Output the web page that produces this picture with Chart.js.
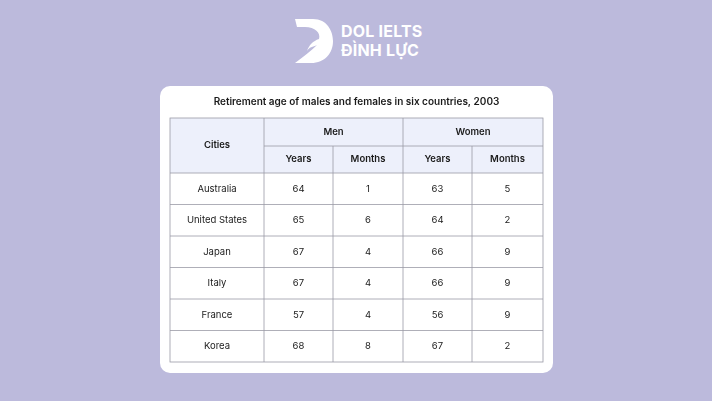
<!DOCTYPE html>
<html lang="en">
<head>
<meta charset="UTF-8" />
<script src="https://cdn.jsdelivr.net/npm/chart.js"></script>
<style>
  html, body { margin: 0; padding: 0; }
  body { width: 712px; height: 401px; background: #bcbadc; position: relative; overflow: hidden; font-family: Inter, "Noto Sans", sans-serif; }
  .card { position: absolute; left: 160px; top: 86px; width: 393px; height: 287px; background: #fff; border-radius: 10px; }
  .logo { position: absolute; left: 293px; top: 17px; display: flex; align-items: center; color: #fff; }
  .logo .txt { margin-left: 8px; font-weight: 700; font-size: 16px; line-height: 19px; letter-spacing: 0.2px; }
  canvas { position: absolute; left: 0; top: 0; }
</style>
</head>
<body>
<div class="logo">
  <svg width="40" height="48" viewBox="0 0 40 48">
    <path d="M2 2 L20 2 C34 2 40 14 40 24 C40 36 32 46 18 46 L2 46 C10 40 18 34 24 28 C20 30 16 30 14 34 C16 28 20 24 26 22 C28 16 22 10 12 10 L4 10 Z" fill="#fff"/>
  </svg>
  <div class="txt">DOL IELTS<br>ĐÌNH LỰC</div>
</div>
<div class="card"></div>
<canvas id="tableChart" width="712" height="401"></canvas>
<script>
  const title = 'Retirement age of males and females in six countries, 2003';
  const cities = ['Australia', 'United States', 'Japan', 'Italy', 'France', 'Korea'];
  const menYears = [64, 65, 67, 67, 57, 68];
  const menMonths = [1, 6, 4, 4, 4, 8];
  const womenYears = [63, 64, 66, 66, 56, 67];
  const womenMonths = [5, 2, 9, 9, 9, 2];

  const colEdges = [0, 94, 163, 233, 302, 373];
  const headerMid = 28, headerBottom = 55, rowH = 31.5;

  const tablePlugin = {
    id: 'tablePlugin',
    afterDraw(chart) {
      const { ctx, scales: { x, y } } = chart;
      const px = v => x.getPixelForValue(v);
      const py = v => y.getPixelForValue(v);
      const cols = [cities, menYears, menMonths, womenYears, womenMonths];
      ctx.save();
      ctx.fillStyle = '#1a1a1a';
      ctx.font = '600 10px Inter, sans-serif';
      ctx.textAlign = 'center';
      ctx.textBaseline = 'middle';
      ctx.fillText(title, (px(0) + px(373)) / 2, py(-16));

      ctx.fillStyle = '#edf0fb';
      ctx.fillRect(px(0), py(0), px(373) - px(0), py(headerBottom) - py(0));

      ctx.strokeStyle = '#9a9aa6';
      ctx.lineWidth = 0.8;
      const line = (x1, y1, x2, y2) => { ctx.beginPath(); ctx.moveTo(px(x1), py(y1)); ctx.lineTo(px(x2), py(y2)); ctx.stroke(); };
      const bottom = headerBottom + rowH * cities.length;
      ctx.strokeRect(px(0), py(0), px(373) - px(0), py(bottom) - py(0));
      line(colEdges[1], 0, colEdges[1], bottom);
      line(colEdges[3], 0, colEdges[3], bottom);
      line(colEdges[2], headerMid, colEdges[2], bottom);
      line(colEdges[4], headerMid, colEdges[4], bottom);
      line(colEdges[1], headerMid, 373, headerMid);
      for (let r = 0; r <= cities.length - 1; r++) line(0, headerBottom + r * rowH, 373, headerBottom + r * rowH);

      const mid = i => (px(colEdges[i]) + px(colEdges[i + 1])) / 2;
      ctx.fillStyle = '#1a1a1a';
      ctx.font = '600 9.5px Inter, sans-serif';
      ctx.fillText('Cities', mid(0), py(headerBottom / 2));
      ctx.fillText('Men', (px(colEdges[1]) + px(colEdges[3])) / 2, py(headerMid / 2));
      ctx.fillText('Women', (px(colEdges[3]) + px(colEdges[5])) / 2, py(headerMid / 2));
      ['Years', 'Months', 'Years', 'Months'].forEach((t, i) => ctx.fillText(t, mid(i + 1), py((headerMid + headerBottom) / 2)));

      ctx.font = '400 9.5px Inter, sans-serif';
      cities.forEach((_, r) => {
        const cy = py(headerBottom + (r + 0.5) * rowH);
        cols.forEach((col, c) => ctx.fillText(String(col[r]), mid(c), cy));
      });
      ctx.restore();
    }
  };

  new Chart(document.getElementById('tableChart'), {
    type: 'scatter',
    data: { datasets: [{ data: [] }] },
    options: {
      responsive: false,
      animation: false,
      layout: { padding: { left: 170, right: 169, top: 118, bottom: 39 } },
      plugins: { legend: { display: false }, tooltip: { enabled: false } },
      scales: {
        x: { type: 'linear', min: 0, max: 373, display: false },
        y: { type: 'linear', min: 0, max: 244, reverse: true, display: false }
      }
    },
    plugins: [tablePlugin]
  });
</script>
</body>
</html>
